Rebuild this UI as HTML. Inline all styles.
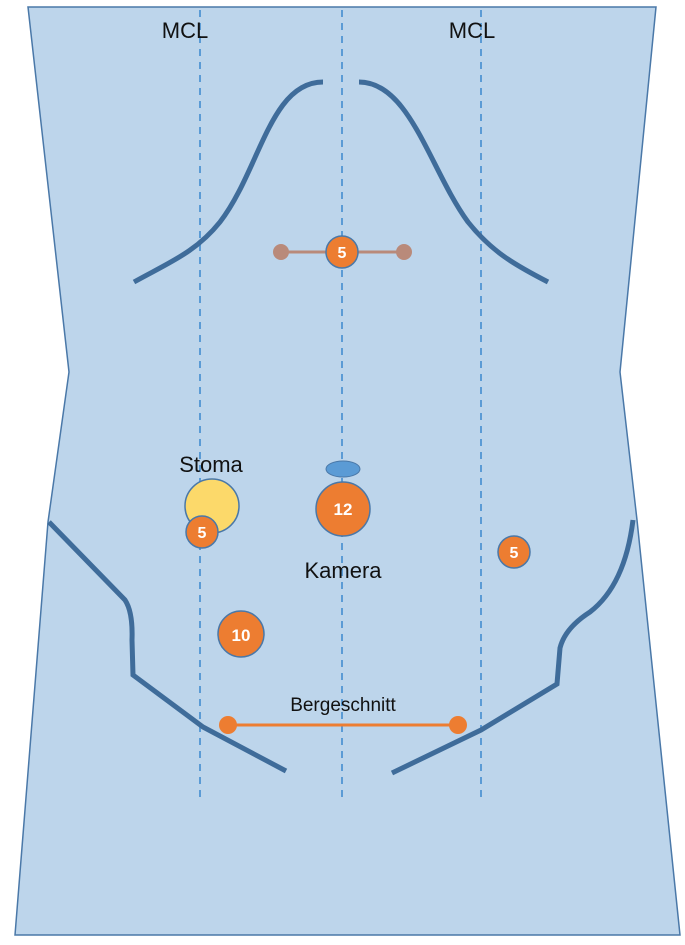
<!DOCTYPE html>
<html><head><meta charset="utf-8"><style>
html,body{margin:0;padding:0;background:#fff;}
svg{display:block}
text{font-family:"Liberation Sans",sans-serif;}
</style></head><body>
<svg width="685" height="945" viewBox="0 0 685 945">
<polygon points="28,7 656,7 620,372 637,520 680,935 15,935 48,522 69,372" fill="#bdd5eb" stroke="#4a78a8" stroke-width="1.5"/>
<g stroke="#5b9bd5" stroke-width="2" stroke-dasharray="7,6">
<line x1="200" y1="10" x2="200" y2="800"/>
<line x1="342" y1="10" x2="342" y2="800"/>
<line x1="481" y1="10" x2="481" y2="800"/>
</g>
<g fill="none" stroke="#3f6c9a" stroke-width="5">
<path d="M134,282 C170,262 196,252 220,222 C260,170 270,82 323,82"/>
<path d="M359,82 C410,82 430,170 468,222 C492,252 515,265 548,282"/>
<path d="M49,522 L125,600 Q133,612 132,640 L133,675 L203,727 L286,771"/>
<path d="M392,773 L481,730 L557,684 L560,648 Q565,628 590,612 Q625,585 633,520"/>
</g>
<line x1="281" y1="252" x2="404" y2="252" stroke="#b98a7a" stroke-width="3"/>
<circle cx="281" cy="252" r="8" fill="#b98a7a"/>
<circle cx="404" cy="252" r="8" fill="#b98a7a"/>
<line x1="228" y1="725" x2="458" y2="725" stroke="#ed7d31" stroke-width="3"/>
<circle cx="228" cy="725" r="9" fill="#ed7d31"/>
<circle cx="458" cy="725" r="9" fill="#ed7d31"/>
<circle cx="212" cy="506" r="27" fill="#fcd96a" stroke="#4a78a8" stroke-width="1.5"/>
<ellipse cx="343" cy="469" rx="17" ry="8" fill="#5b9bd5" stroke="#4a78a8"/>
<g fill="#ed7d31" stroke="#4a78a8" stroke-width="1.5">
<circle cx="342" cy="252" r="16"/>
<circle cx="202" cy="532" r="16"/>
<circle cx="343" cy="509" r="27"/>
<circle cx="514" cy="552" r="16"/>
<circle cx="241" cy="634" r="23"/>
</g>
<g fill="#fff" font-weight="bold" text-anchor="middle" font-size="16">
<text x="342" y="258">5</text>
<text x="202" y="538">5</text>
<text x="343" y="515" font-size="17">12</text>
<text x="514" y="558">5</text>
<text x="241" y="641" font-size="17">10</text>
</g>
<g fill="#111" text-anchor="middle">
<text x="185" y="38" font-size="22">MCL</text>
<text x="472" y="38" font-size="22">MCL</text>
<text x="211" y="472" font-size="22">Stoma</text>
<text x="343" y="578" font-size="22">Kamera</text>
<text x="343" y="711" font-size="19">Bergeschnitt</text>
</g>
</svg>
</body></html>
